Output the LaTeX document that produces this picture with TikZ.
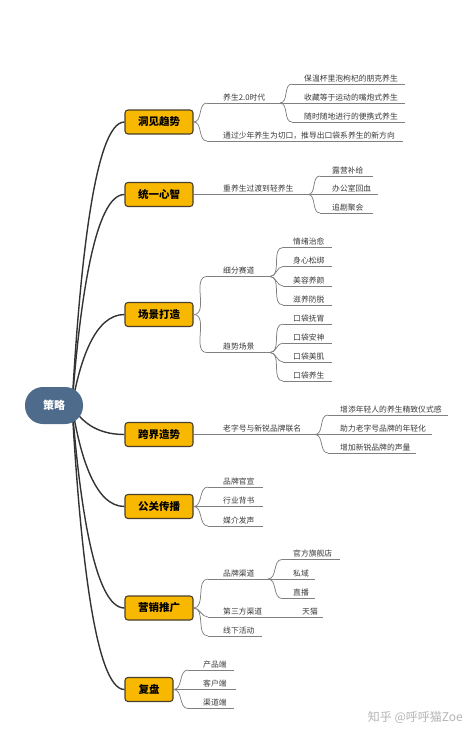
\documentclass[tikz,border=0pt]{standalone}
\usepackage{fontspec}
\setmainfont{Noto Sans CJK SC}
\usetikzlibrary{backgrounds,calc}
\definecolor{rootblue}{HTML}{4E6B8C}
\definecolor{topicyellow}{HTML}{F9B800}
\definecolor{topicborder}{HTML}{4A3F28}
\definecolor{trunkcol}{HTML}{333333}
\definecolor{branchcol}{HTML}{808080}
\definecolor{leaftext}{HTML}{3A3A3A}
\definecolor{markgray}{HTML}{B4B4B4}
\tikzset{
 rootnode/.style={fill=rootblue, rounded corners=18pt, minimum width=58pt, minimum height=37pt, text=white, font=\fontsize{11}{13}\selectfont\bfseries},
 topic/.style={fill=topicyellow, draw=topicborder, line width=1.1pt, rounded corners=3pt, minimum width=68pt, minimum height=24pt, font=\fontsize{10.5}{12}\selectfont\bfseries, inner sep=0pt},
 trunk/.style={draw=trunkcol, line width=1.4pt},
 branch/.style={draw=branchcol, line width=0.75pt},
 leaf/.style={text=leaftext, font=\fontsize{7.8}{9}\selectfont, inner sep=0pt, anchor=base west},
 curve/.style={out=0, in=180},
}
\newcommand\mmleaf[6]{%
 \coordinate (#1-s) at (#2,#4);
 \coordinate (#1-e) at (#3,#4);
 \node[leaf] (#1) at (#5,#4-3) {#6};
 \draw[branch] (#1-s) -- (#1-e);
}
\begin{document}
\begin{tikzpicture}[x=1pt,y=-1pt]
\useasboundingbox (0,0) rectangle (474,734);

% main topics
\node[rootnode] (root) at (54,405.5) {策略};
\node[topic] (A) at (159,122) {洞见趋势};
\node[topic] (B) at (159,194.5) {统一心智};
\node[topic] (C) at (159,314.5) {场景打造};
\node[topic] (D) at (159,434.5) {跨界造势};
\node[topic] (E) at (159,506.5) {公关传播};
\node[topic] (F) at (159,608) {营销推广};
\node[topic, minimum width=48pt] (G) at (149,689.5) {复盘};

\begin{pgfonlayer}{background}
\draw[trunk] ([xshift=18pt]root.center) .. controls (80,263.75) and (95,122) .. (A.west);
\draw[trunk] ([xshift=18pt]root.center) .. controls (80,300) and (95,194.5) .. (B.west);
\draw[trunk] ([xshift=18pt]root.center) .. controls (80,360) and (95,314.5) .. (C.west);
\draw[trunk] ([xshift=18pt]root.center) .. controls (80,420) and (95,434.5) .. (D.west);
\draw[trunk] ([xshift=18pt]root.center) .. controls (80,456) and (95,506.5) .. (E.west);
\draw[trunk] ([xshift=18pt]root.center) .. controls (80,506.75) and (95,608) .. (F.west);
\draw[trunk] ([xshift=18pt]root.center) .. controls (80,547.5) and (95,689.5) .. (G.west);
\end{pgfonlayer}

% A
\mmleaf{a1}{207}{280}{103}{223}{养生2.0时代}
\mmleaf{a11}{292}{405}{84}{304}{保温杯里泡枸杞的朋克养生}
\mmleaf{a12}{292}{405}{103}{304}{收藏等于运动的嘴炮式养生}
\mmleaf{a13}{292}{405}{122}{304}{随时随地进行的便携式养生}
\mmleaf{a2}{207}{403}{141}{223}{通过少年养生为切口，推导出口袋系养生的新方向}
\draw[branch] (A.east) to[curve] (a1-s);
\draw[branch] (A.east) to[curve] (a2-s);
\draw[branch] (a1-e) to[curve] (a11-s);
\draw[branch] (a1-e) -- (a12-s);
\draw[branch] (a1-e) to[curve] (a13-s);

% B
\mmleaf{b1}{197}{308}{194.5}{223}{重养生过渡到轻养生}
\mmleaf{b11}{320}{373}{176}{332}{露营补给}
\mmleaf{b12}{320}{378}{194.5}{332}{办公室回血}
\mmleaf{b13}{320}{373}{213}{332}{追剧聚会}
\draw[branch] (B.east) -- (b1-s);
\draw[branch] (b1-e) to[curve] (b11-s);
\draw[branch] (b1-e) -- (b12-s);
\draw[branch] (b1-e) to[curve] (b13-s);

% C
\mmleaf{c1}{207}{270}{276.5}{223}{细分赛道}
\mmleaf{c11}{283}{332}{247.5}{293}{情绪治愈}
\mmleaf{c12}{283}{332}{266.5}{293}{身心松绑}
\mmleaf{c13}{283}{332}{286}{293}{美容养颜}
\mmleaf{c14}{283}{332}{305}{293}{滋养防脱}
\mmleaf{c2}{207}{270}{352.5}{223}{趋势场景}
\mmleaf{c21}{283}{332}{324}{293}{口袋抚胃}
\mmleaf{c22}{283}{332}{343}{293}{口袋安神}
\mmleaf{c23}{283}{332}{362}{293}{口袋美肌}
\mmleaf{c24}{283}{332}{381}{293}{口袋养生}
\draw[branch] (C.east) to[curve] (c1-s);
\draw[branch] (C.east) to[curve] (c2-s);
\foreach \k in {c11,c12,c13,c14} {\draw[branch] (c1-e) to[curve] (\k-s);}
\foreach \k in {c21,c22,c23,c24} {\draw[branch] (c2-e) to[curve] (\k-s);}

% D
\mmleaf{d1}{197}{315}{434.5}{223}{老字号与新锐品牌联名}
\mmleaf{d11}{328}{448}{415}{340}{增添年轻人的养生精致仪式感}
\mmleaf{d12}{328}{432}{434.5}{340}{助力老字号品牌的年轻化}
\mmleaf{d13}{328}{416}{453}{340}{增加新锐品牌的声量}
\draw[branch] (D.east) -- (d1-s);
\draw[branch] (d1-e) to[curve] (d11-s);
\draw[branch] (d1-e) -- (d12-s);
\draw[branch] (d1-e) to[curve] (d13-s);

% E
\mmleaf{e1}{208}{263}{487}{223}{品牌官宣}
\mmleaf{e2}{197}{263}{506.5}{223}{行业背书}
\mmleaf{e3}{208}{263}{526}{223}{媒介发声}
\draw[branch] (E.east) to[curve] (e1-s);
\draw[branch] (E.east) -- (e2-s);
\draw[branch] (E.east) to[curve] (e3-s);

% F
\mmleaf{f1}{208}{268}{579}{223}{品牌渠道}
\mmleaf{f11}{282}{340}{559.5}{293}{官方旗舰店}
\mmleaf{f12}{282}{315}{579}{293}{私域}
\mmleaf{f13}{282}{315}{598.5}{293}{直播}
\mmleaf{f2}{208}{288}{617}{223}{第三方渠道}
\mmleaf{f21}{292}{323}{617}{302}{天猫}
\mmleaf{f3}{208}{262}{636}{223}{线下活动}
\draw[branch] (F.east) to[curve] (f1-s);
\draw[branch] (F.east) to[curve] (f2-s);
\draw[branch] (F.east) to[curve] (f3-s);
\draw[branch] (f1-e) to[curve] (f11-s);
\draw[branch] (f1-e) -- (f12-s);
\draw[branch] (f1-e) to[curve] (f13-s);
\draw[branch] (f2-e) -- (f21-s);

% G
\mmleaf{g1}{188}{234}{670}{203}{产品端}
\mmleaf{g2}{178}{236}{689.5}{203}{客户端}
\mmleaf{g3}{188}{234}{708.5}{203}{渠道端}
\draw[branch] (G.east) to[curve] (g1-s);
\draw[branch] (G.east) -- (g2-s);
\draw[branch] (G.east) to[curve] (g3-s);

% watermark
\node[font=\fontsize{12}{14}\selectfont, text=markgray, anchor=east, inner sep=0pt] (wm) at (463,717) {知乎 @呼呼猫Zoe};
\end{tikzpicture}
\end{document}
